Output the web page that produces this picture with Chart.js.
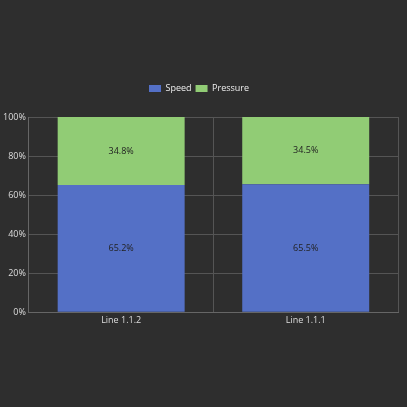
<!DOCTYPE html>
<html>
<head>
<meta charset="utf-8">
<script src="https://cdn.jsdelivr.net/npm/chart.js@4/dist/chart.umd.min.js"></script>
<style>
  html, body { margin: 0; padding: 0; background: #2e2e2e; }
  #wrap { width: 407px; height: 407px; }
</style>
</head>
<body>
<div id="wrap"><canvas id="myChart"></canvas></div>
<script>
const lines = ['Line 1.1.2', 'Line 1.1.1'];
const speed = [65.2, 65.5];
const pressure = [34.8, 34.5];
const yTicks = [0, 20, 40, 60, 80, 100];

const fontFamily = '"Open Sans", "DejaVu Sans", sans-serif';

// draw the percentage in the middle of each bar segment
const barLabels = {
  id: 'barLabels',
  afterDatasetsDraw(chart) {
    const { ctx } = chart;
    ctx.save();
    ctx.font = `9px ${fontFamily}`;
    ctx.fillStyle = '#222';
    ctx.textAlign = 'center';
    ctx.textBaseline = 'middle';
    chart.data.datasets.forEach((ds, i) => {
      chart.getDatasetMeta(i).data.forEach((bar, j) => {
        const mid = (bar.y + bar.base) / 2;
        ctx.fillText(ds.data[j].toFixed(1) + '%', bar.x, mid);
      });
    });
    ctx.restore();
  },
};

// extra space between the legend and the plot
const legendGap = {
  id: 'legendGap',
  afterInit(chart) {
    const fit = chart.legend.fit;
    chart.legend.fit = function () {
      fit.call(this);
      this.height += 14;
    };
  },
};

new Chart(document.querySelector('#myChart'), {
  type: 'bar',
  data: {
    labels: lines,
    datasets: [
      { label: 'Speed', data: speed, backgroundColor: '#5470c6' },
      { label: 'Pressure', data: pressure, backgroundColor: '#91cc75' },
    ],
  },
  options: {
    animation: false,
    responsive: true,
    maintainAspectRatio: false,
    layout: { padding: { top: 80, left: 0, right: 9, bottom: 78 } },
    datasets: { bar: { categoryPercentage: 0.8, barPercentage: 0.86 } },
    scales: {
      x: {
        stacked: true,
        grid: { color: '#555', offset: true, drawTicks: false },
        border: { color: '#666' },
        ticks: { color: '#ddd', padding: 3, font: { family: fontFamily, size: 9 } },
      },
      y: {
        stacked: true,
        min: 0,
        max: 100,
        afterBuildTicks(axis) {
          axis.ticks = yTicks.map(v => ({ value: v }));
        },
        grid: { color: '#555', drawTicks: false },
        border: { color: '#666' },
        ticks: {
          color: '#ddd',
          padding: 3,
          font: { family: fontFamily, size: 9 },
          callback: v => v + '%',
        },
      },
    },
    plugins: {
      legend: {
        labels: {
          color: '#eee',
          boxWidth: 12,
          boxHeight: 7,
          padding: 4,
          font: { family: fontFamily, size: 9 },
        },
      },
      tooltip: { enabled: false },
    },
  },
  plugins: [barLabels, legendGap],
});
</script>
</body>
</html>
